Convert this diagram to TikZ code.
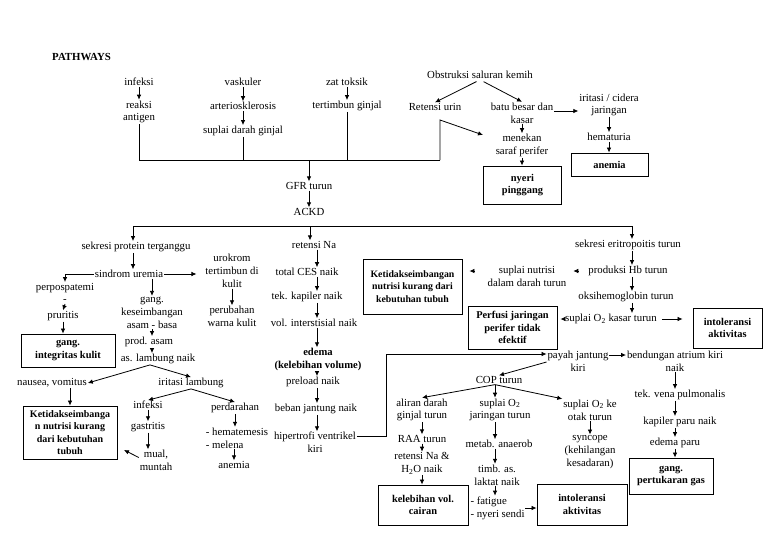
\documentclass[tikz,border=0pt]{standalone}
\usepackage{fontspec}
\setmainfont{Liberation Serif}
\usetikzlibrary{arrows.meta,calc}
\begin{document}
\begin{tikzpicture}[x=1pt,y=-1pt,
  tx/.style={inner sep=0.8pt,align=center,font=\fontsize{10.8}{12.8}\selectfont},
  bx/.style={draw,line width=0.9pt,inner sep=1pt,align=center,font=\fontsize{10.4}{12.8}\selectfont\bfseries},
  arr/.style={line width=0.8pt,-{Latex[length=5pt,width=4.6pt]}},
  ln/.style={line width=0.9pt}]
\useasboundingbox[fill=white] (0,0) rectangle (768,543);

\node[anchor=west,font=\fontsize{10.8}{13}\selectfont\bfseries,inner sep=0pt] (title) at (52,57) {PATHWAYS};

% top
\node[tx] (inf1) at (139,82) {infeksi};
\node[tx] (rea) at (139,112) {reaksi\\antigen};
\node[tx] (vas) at (243,82) {vaskuler};
\node[tx] (art) at (243,106) {arteriosklerosis};
\node[tx] (sdg) at (243,131) {suplai darah ginjal};
\node[tx] (zat) at (347,82) {zat toksik};
\node[tx] (ttg) at (347,106) {tertimbun ginjal};
\node[tx] (obs) at (480,75) {Obstruksi saluran kemih};
\node[tx] (ret) at (435,107) {Retensi urin};
\node[tx] (batu) at (522,113) {batu besar dan\\kasar};
\node[tx] (men) at (522,145.5) {menekan\\saraf perifer};
\node[bx,minimum width=78pt,minimum height=38pt] (nyeri) at (522.5,185) {nyeri\\pinggang};
\node[tx] (irit) at (609,105) {iritasi / cidera\\jaringan};
\node[tx] (hem) at (609,137) {hematuria};
\node[bx,minimum width=77pt,minimum height=23pt] (an1) at (609.5,164.5) {anemia};
\node[tx] (gfr) at (309,186) {GFR turun};
\node[tx] (ackd) at (309,212) {ACKD};

\coordinate (jR) at (440,160);
\coordinate (jT) at (440,120);
\coordinate (jG) at (309,160);
\coordinate (mt) at (483,135);

\draw[arr] (inf1) -- (rea);
\draw[arr] (vas) -- (art);
\draw[arr] (art) -- (sdg);
\draw[arr] (zat) -- (ttg);
\draw[ln] (rea.south) |- (jR);
\draw[ln] (sdg.south) -- (sdg.south |- jR);
\draw[ln] (ttg.south) -- (ttg.south |- jR);
\draw[arr] (jR) -- (jT) -- (mt);
\draw[arr] (jG) -- (gfr);
\draw[arr] (gfr) -- (ackd);
\draw[arr,shorten <=4pt] (obs.south) -- (ret.north);
\draw[arr,shorten <=4pt] (obs.south) -- (batu.north);
\draw[arr] ([yshift=2pt]batu.east) -- ([yshift=2pt]batu.east -| irit.west);
\draw[arr] (batu) -- (men);
\draw[arr] (men.south) -- (men.south |- nyeri.north);
\draw[arr] (irit) -- (hem);
\draw[arr] (hem.south) -- (hem.south |- an1.north);

% big distribution line
\coordinate (bL) at (133,226);
\coordinate (bM) at (310,226);
\coordinate (bR) at (632,226);
\draw[ln] (bL) -- (bR);

% left branch
\node[tx] (spt) at (136,247) {sekresi protein terganggu};
\node[tx] (sur) at (129,274) {sindrom uremia};
\draw[arr] (bL) -- (bL |- spt.north);
\draw[arr] (spt.south -| bL) -- (sur.north -| bL);
\node[tx] (perp) at (65,293) {perpospatemi\\-};
\node[tx] (prur) at (63,316) {pruritis};
\draw[arr] (sur.west) -| (perp.north);
\draw[arr] (perp.south) -- (prur.north);
\node[bx,minimum width=94pt,minimum height=33pt] (gik) at (68,350.5) {gang.\\integritas kulit};
\draw[arr] (prur) -- (prur |- gik.north);

\node[tx] (uro) at (232,271) {urokrom\\tertimbun di\\kulit};
\draw[arr,shorten >=8pt] (sur.east) -- (sur.east -| uro.west);
\node[tx] (pwk) at (232,316.5) {perubahan\\warna kulit};
\draw[arr] (uro) -- (pwk);

\node[tx] (gks) at (152,312.5) {gang.\\keseimbangan\\asam - basa};
\draw[arr] (sur.south -| gks) -- (gks);
\node[tx] (pa) at (149,342) {prod. asam};
\draw[arr] (gks.south) -- (gks.south |- pa.north);
\node[tx] (alb) at (158,359) {as. lambung naik};
\draw[arr] (pa.south -| gks) -- (alb.north -| gks);
\node[tx] (nau) at (52,383) {nausea, vomitus};
\node[tx] (irl) at (191,383) {iritasi lambung};
\draw[arr] ([xshift=-8pt]alb.south) -- (nau.east);
\draw[arr] ([xshift=-8pt]alb.south) -- (irl.north);
\node[bx,minimum width=94pt,minimum height=53pt,font=\fontsize{10}{12.6}\selectfont\bfseries] (kb1) at (70,432.5) {Ketidakseimbanga\\n nutrisi kurang\\dari kebutuhan\\tubuh};
\draw[arr] (nau.south -| kb1) -- (kb1.north);

\node[tx] (inf2) at (148,405) {infeksi};
\node[tx] (perd) at (235,408) {perdarahan};
\draw[arr] (irl.south) -- (inf2.north);
\draw[arr] (irl.south) -- (perd.north);
\node[tx] (gas) at (148,427) {gastritis};
\draw[arr] (inf2) -- (gas);
\node[tx] (mual) at (156,460.5) {mual,\\muntah};
\draw[arr] (gas.south) -- (gas.south |- mual.north);
\coordinate (kbt) at (124,450);
\draw[arr] ([yshift=3pt]mual.west) -- (kbt);
\node[tx,align=left] (hm) at (237,438) {- hematemesis\\- melena};
\draw[arr] (perd) -- (perd |- hm.north);
\node[tx] (an2) at (234,465) {anemia};
\draw[arr] (hm.south -| an2) -- (an2);

% middle column
\coordinate (cm) at (317,0);
\node[tx] (rna) at (314,245) {retensi Na};
\node[tx] (tce) at (307,272) {total CES naik};
\node[tx] (tkn) at (307,297) {tek. kapiler naik};
\node[tx] (vin) at (314,323) {vol. interstisial naik};
\node[tx,font=\fontsize{10.6}{12.8}\selectfont\bfseries] (ede) at (318,359.5) {edema\\(kelebihan volume)};
\node[tx] (pln) at (313,382) {preload naik};
\node[tx] (bjn) at (316,409) {beban jantung naik};
\node[tx] (hvk) at (315,442.5) {hipertrofi ventrikel\\kiri};
\draw[arr] (bM) -- (bM |- rna.north);
\draw[arr] (rna.south -| cm) -- (tce.north -| cm);
\draw[arr] (tce.south -| cm) -- (tkn.north -| cm);
\draw[arr] (tkn.south -| cm) -- (vin.north -| cm);
\draw[arr] (vin.south -| cm) -- (ede.north -| cm);
\draw[arr] (ede.south -| cm) -- (pln.north -| cm);
\draw[arr] (pln.south -| cm) -- (bjn.north -| cm);
\draw[arr] (bjn.south -| cm) -- (hvk.north -| cm);

% right column
\node[tx] (set) at (628,245) {sekresi eritropoitis turun};
\node[tx] (phb) at (628,271) {produksi Hb turun};
\node[tx] (oht) at (626,297) {oksihemoglobin turun};
\node[tx] (sok) at (611,319) {suplai O\textsubscript{2} kasar turun};
\node[tx] (snd) at (527,276.5) {suplai nutrisi\\dalam darah turun};
\node[bx,minimum width=99pt,minimum height=55pt,font=\fontsize{9.8}{12.3}\selectfont\bfseries] (kb2) at (412.5,286.5) {Ketidakseimbangan\\nutrisi kurang dari\\kebutuhan tubuh};
\node[bx,minimum width=89pt,minimum height=43pt] (pjp) at (512.5,327.5) {Perfusi jaringan\\perifer tidak\\efektif};
\node[bx,minimum width=69pt,minimum height=40pt] (ia1) at (727.5,328) {intoleransi\\aktivitas};
\draw[arr] (bR) -- (bR |- set.north);
\draw[arr] (set.south -| bR) -- (phb.north -| bR);
\draw[arr,shorten <=9pt,shorten >=6pt] (phb.west) -- (phb.west -| snd.east);
\draw[arr,shorten <=13pt,shorten >=7pt] ([yshift=5.5pt]snd.west) -- ([yshift=5.5pt]snd.west -| kb2.east);
\draw[arr] (phb.south -| bR) -- (oht.north -| bR);
\draw[arr] (oht.south -| bR) -- (sok.north -| bR);
\draw[arr,shorten >=3pt] (sok.west) -- (sok.west -| pjp.east);
\draw[arr,shorten <=4pt,shorten >=10pt] (sok.east) -- (sok.east -| ia1.west);

% heart failure branch
\node[tx] (pjk) at (578,361) {payah jantung\\kiri};
\node[tx] (ben) at (675,361) {bendungan atrium kiri\\naik};
\coordinate (h1) at (386,436);
\draw[arr] ([yshift=6.5pt]hvk.east) -- (h1) |- ([yshift=7pt]pjk.west);
\draw[arr] ([yshift=6pt]pjk.east) -- ([yshift=6pt]pjk.east -| ben.west);
\coordinate (cq) at (675,0);
\node[tx] (tvp) at (680,395) {tek. vena pulmonalis};
\node[tx] (kpn) at (680,422) {kapiler paru naik};
\node[tx] (edp) at (675,443) {edema paru};
\node[bx,minimum width=84pt,minimum height=36pt] (gpg) at (671,476) {gang.\\pertukaran gas};
\draw[arr] (ben.south -| cq) -- (tvp.north -| cq);
\draw[arr] (tvp.south -| cq) -- (kpn.north -| cq);
\draw[arr] (kpn.south -| cq) -- (edp.north -| cq);
\draw[arr] (edp.south -| cq) -- (gpg.north -| cq);

\node[tx] (cop) at (499,380) {COP turun};
\draw[arr] ([yshift=-1pt]pjk.west) -- (cop.north);
\node[tx] (adt) at (422,410) {aliran darah\\ginjal turun};
\node[tx] (sjt) at (500,410) {suplai O\textsubscript{2}\\jaringan turun};
\node[tx] (sot) at (590,410) {suplai O\textsubscript{2} ke\\otak turun};
\coordinate (cs) at (495,0);
\draw[arr] (cop.south -| cs) -- (adt.north);
\draw[arr] (cop.south -| cs) -- (sjt.north -| cs);
\draw[arr] (cop.south -| cs) -- (sot.north west);

\node[tx] (raa) at (422,439) {RAA turun};
\node[tx] (rnh) at (422,463.5) {retensi Na \&\\H\textsubscript{2}O naik};
\node[bx,minimum width=90pt,minimum height=40pt] (kvc) at (423,505) {kelebihan vol.\\cairan};
\draw[arr] (adt) -- (raa);
\draw[arr] (raa) -- (rnh);
\draw[arr] (rnh.south) -- (rnh.south |- kvc.north);

\node[tx] (mta) at (499,444) {metab. anaerob};
\node[tx] (tal) at (497,475) {timb. as.\\laktat naik};
\node[tx,align=left] (ft) at (497.5,508) {- fatigue\\- nyeri sendi};
\node[bx,minimum width=90pt,minimum height=41pt] (ia2) at (582,504.5) {intoleransi\\aktivitas};
\draw[arr] (sjt.south -| cs) -- (mta.north -| cs);
\draw[arr] (mta.south -| cs) -- (tal.north -| cs);
\draw[arr] (tal.south -| cs) -- (ft.north -| cs);
\draw[arr] (ft.east) -- (ft.east -| ia2.west);

\node[tx] (syn) at (590,452) {syncope\\(kehilangan\\kesadaran)};
\draw[arr] (sot) -- (syn);
\end{tikzpicture}
\end{document}
